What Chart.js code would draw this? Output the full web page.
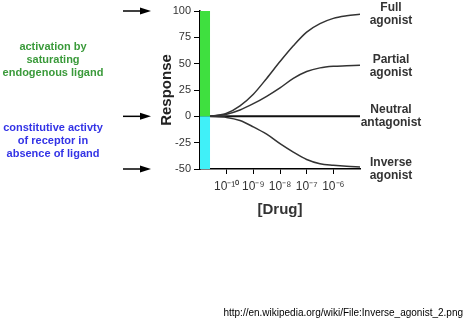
<!DOCTYPE html>
<html>
<head>
<meta charset="utf-8">
<script src="https://cdn.jsdelivr.net/npm/chart.js@4"></script>
<style>
  body { margin: 0; background: #fff; }
  canvas { display: block; }
</style>
</head>
<body>
<canvas id="chart" width="474" height="330"></canvas>
<script>
// DADOS
const doses = [2.4e-11, 1e-10, 3.16e-10, 1e-9, 3.16e-9, 1e-8, 3.16e-8, 1e-7, 3.16e-7, 1e-6, 3.16e-6, 1e-5];
const fullAgonist = [0, 3, 10, 21, 36, 52, 67, 80, 88, 93, 95.5, 97];
const partialAgonist = [0, 2, 6, 12, 19, 27, 36, 42.5, 46, 47.5, 48, 48.5];
const neutralAntagonist = [0, 0, 0, 0, 0, 0, 0, 0, 0, 0, 0, 0];
const inverseAgonist = [0, -1, -4, -10, -17, -26, -34, -41, -45, -46.5, -47.5, -48];

const barEdges = [1e-11, 2.4e-11];
const activationLevel = 100;
const basalLevel = -50;

const xTicks = [1e-10, 1e-9, 1e-8, 1e-7, 1e-6];
const xTickLabels = ['10⁻¹⁰', '10⁻⁹', '10⁻⁸', '10⁻⁷', '10⁻⁶'];
const yTicks = [100, 75, 50, 25, 0, -25, -50];

const curveLabels = [
  { lines: ['Full', 'agonist'], level: 97 },
  { lines: ['Partial', 'agonist'], level: 48 },
  { lines: ['Neutral', 'antagonist'], level: 0 },
  { lines: ['Inverse', 'agonist'], level: -50 }
];
const arrowLevels = [100, 0, -50];

const pares = (ys) => doses.map((d, i) => ({ x: d, y: ys[i] }));

const curva = (ys, cor, largura) => ({
  data: pares(ys),
  borderColor: cor,
  borderWidth: largura,
  pointRadius: 0,
  cubicInterpolationMode: 'monotone',
  fill: false
});

const barra = (nivel, cor) => ({
  data: barEdges.map(x => ({ x: x, y: nivel })),
  borderWidth: 0,
  borderColor: cor,
  backgroundColor: cor,
  pointRadius: 0,
  fill: 'origin'
});

// textos e setas
const anotacoes = {
  id: 'anotacoes',
  afterDraw(chart) {
    const ctx = chart.ctx;
    const y = chart.scales.y;
    ctx.save();

    // setas
    ctx.strokeStyle = '#000';
    ctx.fillStyle = '#000';
    ctx.lineWidth = 1.5;
    arrowLevels.forEach(v => {
      const py = y.getPixelForValue(v);
      ctx.beginPath();
      ctx.moveTo(123, py);
      ctx.lineTo(142, py);
      ctx.stroke();
      ctx.beginPath();
      ctx.moveTo(151, py);
      ctx.lineTo(140, py - 3.5);
      ctx.lineTo(140, py + 3.5);
      ctx.closePath();
      ctx.fill();
    });

    // rótulos das curvas
    ctx.font = 'bold 12px "Liberation Sans", Arial, sans-serif';
    ctx.fillStyle = '#333';
    ctx.textAlign = 'center';
    ctx.textBaseline = 'middle';
    curveLabels.forEach(c => {
      const py = y.getPixelForValue(c.level);
      ctx.fillText(c.lines[0], 391, py - 6.5);
      ctx.fillText(c.lines[1], 391, py + 6.5);
    });

    // textos da esquerda
    ctx.font = 'bold 11px "Liberation Sans", Arial, sans-serif';
    ctx.fillStyle = '#3a9a3a';
    ['activation by', 'saturating', 'endogenous ligand'].forEach((t, i) => {
      ctx.fillText(t, 53, 47 + i * 13);
    });
    ctx.fillStyle = '#3333e6';
    ['constitutive activty', 'of receptor in', 'absence of ligand'].forEach((t, i) => {
      ctx.fillText(t, 53, 128 + i * 13);
    });

    // fonte
    ctx.font = '10px "Liberation Sans", Arial, sans-serif';
    ctx.fillStyle = '#000';
    ctx.textAlign = 'right';
    ctx.fillText('http://en.wikipedia.org/wiki/File:Inverse_agonist_2.png', 463, 313);
    ctx.restore();
  }
};

const fonte = { family: '"Liberation Sans", Arial, sans-serif', size: 11 };

new Chart(document.getElementById('chart'), {
  type: 'line',
  data: {
    datasets: [
      barra(activationLevel, '#3fe03f'),
      barra(basalLevel, '#40f0f8'),
      curva(fullAgonist, '#333', 1.5),
      curva(partialAgonist, '#333', 1.5),
      curva(inverseAgonist, '#333', 1.5),
      { ...curva(neutralAntagonist, '#111', 2), data: [{ x: 1e-11, y: 0 }, ...pares(neutralAntagonist)] }
    ]
  },
  options: {
    responsive: false,
    animation: false,
    layout: { padding: { left: 154, right: 114, top: 11, bottom: 107 } },
    plugins: { legend: { display: false }, tooltip: { enabled: false } },
    scales: {
      x: {
        type: 'logarithmic',
        min: 1e-11,
        max: 1e-5,
        afterBuildTicks: (axis) => { axis.ticks = xTicks.map(v => ({ value: v })); },
        afterFit: (axis) => { axis.height = 54; },
        ticks: {
          autoSkip: false,
          maxRotation: 0,
          color: '#333',
          font: { family: fonte.family, size: 12 },
          padding: 5,
          callback: (v, i) => xTickLabels[i]
        },
        grid: { drawOnChartArea: false, drawTicks: true, tickLength: 5, color: '#000' },
        border: { color: '#000', width: 1.5 },
        title: {
          display: true,
          text: '[Drug]',
          color: '#333',
          font: { family: fonte.family, size: 15, weight: 'bold' }
        }
      },
      y: {
        min: -50,
        max: 100,
        afterBuildTicks: (axis) => { axis.ticks = yTicks.map(v => ({ value: v })); },
        afterFit: (axis) => { axis.width = 46; },
        ticks: { color: '#333', font: fonte, padding: 3 },
        grid: { drawOnChartArea: false, drawTicks: true, tickLength: 6, color: '#000' },
        border: { color: '#000', width: 1.5 },
        title: {
          display: true,
          text: 'Response',
          color: '#222',
          font: { family: fonte.family, size: 15, weight: 'bold' }
        }
      }
    }
  },
  plugins: [anotacoes]
});
</script>
</body>
</html>
